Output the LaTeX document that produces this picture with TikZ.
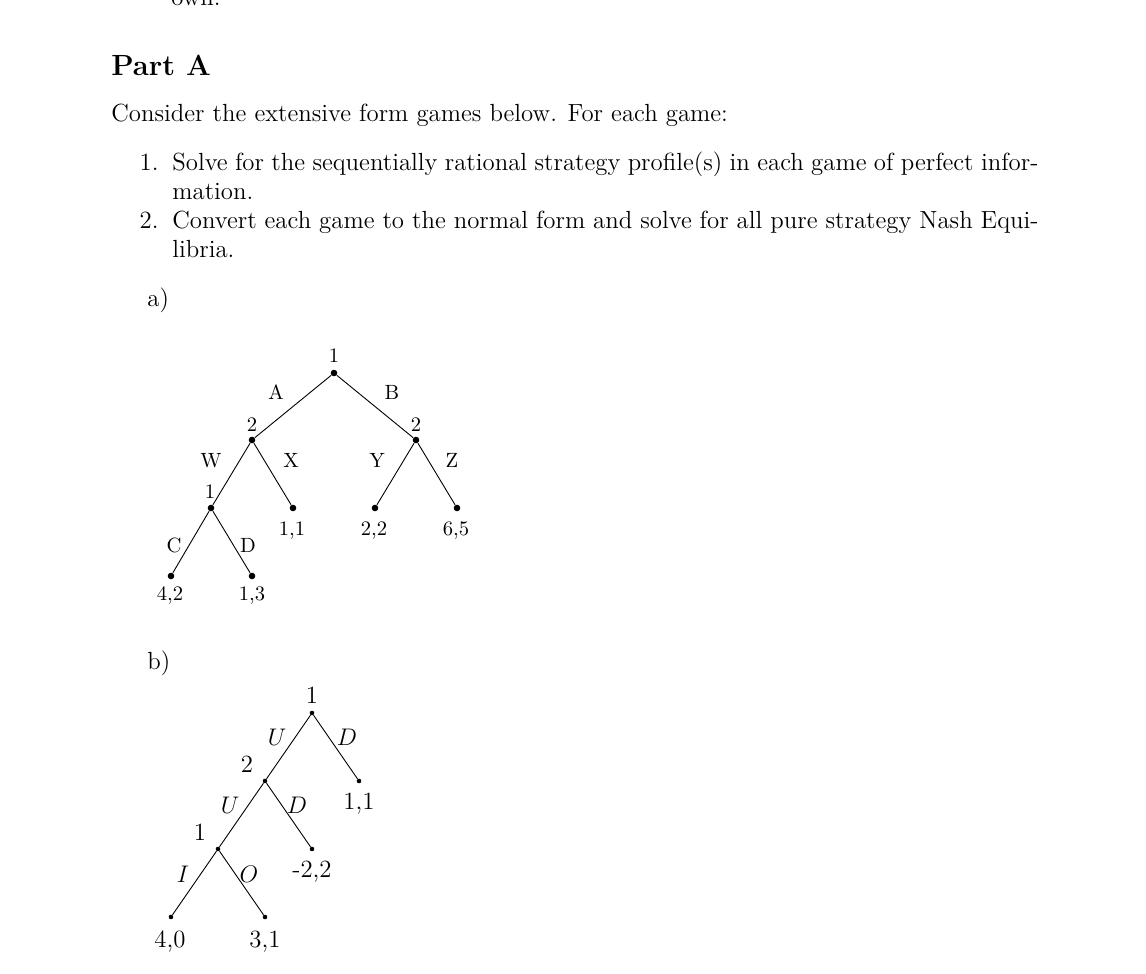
\documentclass[tikz,border=0pt]{standalone}
\begin{document}
\begin{tikzpicture}[x=0.5pt,y=-0.5pt,
  body/.style={inner sep=0pt, anchor=base west, font=\fontsize{12.4}{14.5}\selectfont},
  ta/.style={inner sep=0pt, anchor=base, font=\fontsize{10.3}{12}\selectfont},
  tb/.style={inner sep=0pt, anchor=base, font=\fontsize{12.4}{14.5}\selectfont},
  dota/.style={circle, fill, inner sep=0pt, minimum size=3.3pt},
  dotb/.style={circle, fill, inner sep=0pt, minimum size=2.3pt},
  branch/.style={line width=0.45pt}]
\useasboundingbox (0,0) rectangle (1146,974);
\clip (0,0) rectangle (1146,974);
% ---------- text ----------
\node[body] (own) at (171,6) {own.};
\node[inner sep=0pt, anchor=base west, font=\fontsize{14.6}{18}\selectfont\bfseries] (part) at (111,76) {Part A};
\node[body] (intro) at (111,122) {Consider the extensive form games below. For each game:};
\node[body, anchor=base east] (n1) at (159,170) {1.};
\node[body] (l1) at (172,170) {\makebox[433pt][s]{Solve for the sequentially rational strategy profile(s) in each game of perfect infor-}};
\node[body] (l2) at (172,199) {mation.};
\node[body, anchor=base east] (n2) at (159,228) {2.};
\node[body] (l3) at (172,228) {\makebox[433pt][s]{Convert each game to the normal form and solve for all pure strategy Nash Equi-}};
\node[body] (l4) at (172,257) {libria.};
\node[body] (la) at (147,306) {a)};
\node[body] (lb) at (147,669) {b)};
% ---------- tree a ----------
\node[dota] (r) at (334,373) {};
\node[dota] (a2l) at (252,440) {};
\node[dota] (a2r) at (416,440) {};
\node[dota] (a1) at (211,508) {};
\node[dota] (axx) at (293,508) {};
\node[dota] (ayy) at (375,508) {};
\node[dota] (azz) at (457,508) {};
\node[dota] (acc) at (171,576) {};
\node[dota] (add) at (252,576) {};
\draw[branch] (r) -- (a2l);
\draw[branch] (r) -- (a2r);
\draw[branch] (a2l) -- (a1);
\draw[branch] (a2l) -- (axx);
\draw[branch] (a2r) -- (ayy);
\draw[branch] (a2r) -- (azz);
\draw[branch] (a1) -- (acc);
\draw[branch] (a1) -- (add);
\node[ta] (pr) at (334,362) {1};
\node[ta] (p2l) at (252,431) {2};
\node[ta] (p2r) at (416,431) {2};
\node[ta] (p1) at (210,498) {1};
\node[ta] (eA) at (276,399) {A};
\node[ta] (eB) at (392,399) {B};
\node[ta] (eW) at (211,467) {W};
\node[ta] (eX) at (291,467) {X};
\node[ta] (eY) at (377,467) {Y};
\node[ta] (eZ) at (452,467) {Z};
\node[ta] (eC) at (174,552) {C};
\node[ta] (eD) at (248,552) {D};
\node[ta] (o11) at (292,535) {1,1};
\node[ta] (o22) at (374,535) {2,2};
\node[ta] (o65) at (456,535) {6,5};
\node[ta] (o42) at (170,600) {4,2};
\node[ta] (o13) at (252,600) {1,3};
% ---------- tree b ----------
\node[dotb] (br) at (312,713) {};
\node[dotb] (b2) at (265,781) {};
\node[dotb] (bD) at (359,781) {};
\node[dotb] (b1) at (218,849) {};
\node[dotb] (bDD) at (312,849) {};
\node[dotb] (bI) at (171,917) {};
\node[dotb] (bO) at (265,917) {};
\draw[branch] (br) -- (b2);
\draw[branch] (br) -- (bD);
\draw[branch] (b2) -- (b1);
\draw[branch] (b2) -- (bDD);
\draw[branch] (b1) -- (bI);
\draw[branch] (b1) -- (bO);
\node[tb] (qr) at (312,703) {1};
\node[tb] (q2) at (247,772) {2};
\node[tb] (q1) at (200,840) {1};
\node[tb] (fU) at (277,745) {$U$};
\node[tb] (fD) at (347,745) {$D$};
\node[tb] (fU2) at (230,813) {$U$};
\node[tb] (fD2) at (297,813) {$D$};
\node[tb] (fI) at (183,882) {$I$};
\node[tb] (fO) at (249,882) {$O$};
\node[tb] (w11) at (359,809) {1,1};
\node[tb] (w22) at (312,877) {-2,2};
\node[tb] (w40) at (170,947) {4,0};
\node[tb] (w31) at (265,947) {3,1};
\end{tikzpicture}
\end{document}
